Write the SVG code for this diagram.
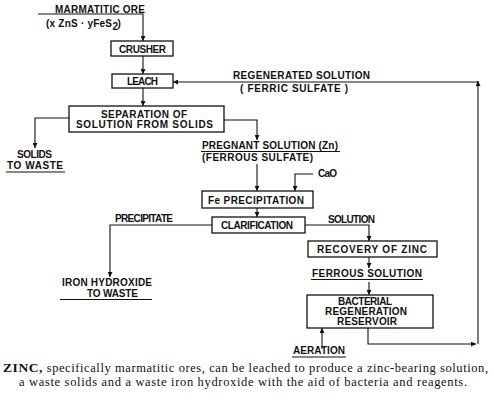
<svg xmlns="http://www.w3.org/2000/svg" width="494" height="400" viewBox="0 0 494 400">
<style>
.bg{fill:#fff}
.box{fill:#fff;stroke:#111;stroke-width:1.3}
.t{font-family:"Liberation Sans",Arial,sans-serif;font-weight:bold;font-size:10px;fill:#111}
.ln{fill:none;stroke:#111;stroke-width:1.1}
.ul{fill:none;stroke:#111;stroke-width:1.2}
.cap{font-family:"Liberation Serif","Times New Roman",serif;font-size:12.5px;fill:#111}
</style>
<defs>
<marker id="ah" viewBox="0 0 10 10" refX="10" refY="5" markerWidth="6" markerHeight="5" markerUnits="userSpaceOnUse" orient="auto">
<path d="M0,0 L10,5 L0,10 Z" fill="#111"/>
</marker>
</defs>
<rect class="bg" x="0" y="0" width="494" height="400"/>

<g id="connectors">
<path class="ln" d="M38,14 H143 V41" marker-end="url(#ah)"/>
<path class="ln" d="M143,56 V74" marker-end="url(#ah)"/>
<path class="ln" d="M143,88 V106" marker-end="url(#ah)"/>
<path class="ln" d="M69,118 H35 V148" marker-end="url(#ah)"/>
<path class="ln" d="M224,120 H257 V140" marker-end="url(#ah)"/>
<path class="ln" d="M257,164 V191" marker-end="url(#ah)"/>
<path class="ln" d="M313,174 H295 V191" marker-end="url(#ah)"/>
<path class="ln" d="M257,208 V217" marker-end="url(#ah)"/>
<path class="ln" d="M212,225 H110 V277" marker-end="url(#ah)"/>
<path class="ln" d="M305,225 H369 V241" marker-end="url(#ah)"/>
<path class="ln" d="M369,257 V268" marker-end="url(#ah)"/>
<path class="ln" d="M369,282 V295" marker-end="url(#ah)"/>
<path class="ln" d="M322,349 V328" marker-end="url(#ah)"/>
<path class="ln" d="M368,328 V344 H476" marker-end="url(#ah)"/>
<path class="ln" d="M478,344 V81" marker-end="url(#ah)"/>
<path class="ln" d="M478,82 H173" marker-end="url(#ah)"/>
</g>

<g id="ore">
<text class="t" x="55" y="12.5" textLength="90">MARMATITIC  ORE</text>
<text class="t" x="46" y="26.5" font-size="9.5" textLength="66">(x ZnS · yFeS</text>
<text class="t" x="112.5" y="29.5" font-size="8.5">2</text>
<text class="t" x="117.5" y="26.5" font-size="9.5">)</text>
</g>

<g id="crusher">
<rect class="box" x="111" y="41" width="62" height="15"/>
<text class="t" x="119" y="52.5" textLength="47">CRUSHER</text>
</g>

<g id="leach">
<rect class="box" x="112" y="74" width="61" height="14"/>
<text class="t" x="127" y="85" textLength="31">LEACH</text>
</g>

<g id="separation">
<rect class="box" x="69" y="106" width="155" height="26"/>
<text class="t" x="101" y="117.5" textLength="86">SEPARATION  OF</text>
<text class="t" x="76" y="128" textLength="137">SOLUTION  FROM  SOLIDS</text>
</g>

<g id="solids">
<text class="t" x="17" y="158" textLength="35">SOLIDS</text>
<text class="t" x="7" y="169" textLength="56">TO  WASTE</text>
<path class="ul" d="M6,172 H65" stroke-width="1.5"/>
</g>

<g id="regenerated">
<text class="t" x="233" y="79" textLength="137">REGENERATED  SOLUTION</text>
<text class="t" x="240" y="92" textLength="108">( FERRIC  SULFATE )</text>
</g>

<g id="pregnant">
<text class="t" x="202" y="149" textLength="136">PREGNANT  SOLUTION (Zn)</text>
<path class="ul" d="M201,151.5 H340"/>
<text class="t" x="202" y="160.5" textLength="111">(FERROUS  SULFATE)</text>
</g>

<g id="cao">
<text class="t" x="318" y="177" textLength="19">CaO</text>
</g>

<g id="fe-precipitation">
<rect class="box" x="202" y="191" width="111" height="17"/>
<text class="t" x="208" y="203.5" textLength="96">Fe  PRECIPITATION</text>
</g>

<g id="clarification">
<rect class="box" x="212" y="217" width="93" height="16"/>
<text class="t" x="221" y="228.5" textLength="72">CLARIFICATION</text>
</g>

<g id="precipitate">
<text class="t" x="115" y="222" textLength="58">PRECIPITATE</text>
</g>

<g id="solution">
<text class="t" x="328" y="223" textLength="47">SOLUTION</text>
</g>

<g id="iron-hydroxide">
<text class="t" x="62" y="286" textLength="90">IRON  HYDROXIDE</text>
<text class="t" x="87" y="296.5" textLength="51">TO  WASTE</text>
<path class="ul" d="M60,299.5 H152"/>
</g>

<g id="recovery">
<rect class="box" x="308" y="241" width="129" height="16"/>
<text class="t" x="317" y="253" textLength="110">RECOVERY  OF  ZINC</text>
</g>

<g id="ferrous-solution">
<text class="t" x="312" y="277" textLength="110">FERROUS  SOLUTION</text>
<path class="ul" d="M311,279.5 H423"/>
</g>

<g id="bacterial">
<rect class="box" x="307" y="295" width="126" height="33"/>
<text class="t" x="338" y="305" font-size="9.5" textLength="54">BACTERIAL</text>
<text class="t" x="325" y="315" font-size="9.5" textLength="82">REGENERATION</text>
<text class="t" x="337" y="325" font-size="9.5" textLength="60">RESERVOIR</text>
</g>

<g id="aeration">
<text class="t" x="293" y="354" textLength="52">AERATION</text>
<path class="ul" d="M292,357 H346" stroke-width="1.5"/>
</g>

<g id="caption">
<text class="cap" x="3" y="372" textLength="485"><tspan font-weight="bold" font-size="13.5px">ZINC,</tspan> specifically marmatitic ores, can be leached to produce a zinc-bearing solution,</text>
<text class="cap" x="19" y="386" textLength="448">a waste solids and a waste iron hydroxide with the aid of bacteria and reagents.</text>
</g>
</svg>
